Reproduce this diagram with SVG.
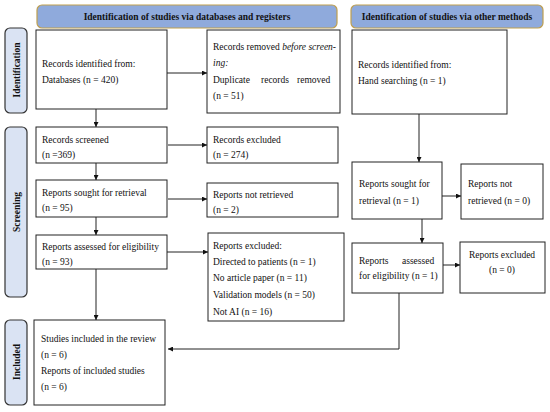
<svg xmlns="http://www.w3.org/2000/svg" width="550" height="412" viewBox="0 0 550 412">
<style>
.bx{fill:#fff;stroke:#222;stroke-width:1}
.hd{fill:#8FAADC;stroke:#BF9F4F;stroke-width:1.2}
.sd{fill:#DAE3F3;stroke:#333;stroke-width:1.2}
.t{font-family:"Liberation Serif","Times New Roman",serif;font-size:9.5px;fill:#111}
.b{font-family:"Liberation Serif","Times New Roman",serif;font-size:9.5px;font-weight:bold;fill:#111}
.ln{fill:none;stroke:#222;stroke-width:1}
</style>
<defs>
<marker id="ah" viewBox="0 0 10 10" refX="10" refY="5" markerWidth="5" markerHeight="5" orient="auto">
<path d="M0,0 L10,5 L0,10 z" fill="#111"/>
</marker>
</defs>
<rect width="550" height="412" fill="#fff"/>
<g id="header-databases">
<rect class="hd" x="37" y="5" width="300" height="23" rx="5"/>
<text class="b" x="187" y="20" text-anchor="middle">Identification of studies via databases and registers</text>
</g>
<g id="header-other">
<rect class="hd" x="351" y="5" width="192" height="23" rx="5"/>
<text class="b" x="447" y="20" text-anchor="middle">Identification of studies via other methods</text>
</g>
<g id="side-identification">
<rect class="sd" x="5" y="28" width="22" height="85" rx="5"/>
<text class="b" transform="translate(19.5,70) rotate(-90)" text-anchor="middle">Identification</text>
</g>
<g id="side-screening">
<rect class="sd" x="5" y="127" width="22" height="170" rx="5"/>
<text class="b" transform="translate(19.5,212) rotate(-90)" text-anchor="middle">Screening</text>
</g>
<g id="side-included">
<rect class="sd" x="5" y="320" width="22" height="85" rx="5"/>
<text class="b" transform="translate(19.5,362) rotate(-90)" text-anchor="middle">Included</text>
</g>
<g id="records-identified">
<rect class="bx" x="36" y="30" width="131" height="79"/>
<text class="t" x="42" y="67">Records identified from:</text>
<text class="t" x="42" y="83">Databases (n = 420)</text>
</g>
<g id="records-removed">
<rect class="bx" x="207" y="30" width="133" height="83"/>
<text class="t" x="213" y="50">Records removed <tspan font-style="italic">before screen-</tspan></text>
<text class="t" x="213" y="66" font-style="italic">ing:</text>
<text class="t" y="83"><tspan x="213">Duplicate</tspan><tspan x="261">records</tspan><tspan x="297">removed</tspan></text>
<text class="t" x="213" y="99">(n = 51)</text>
</g>
<g id="hand-searching">
<rect class="bx" x="352" y="30" width="155" height="84"/>
<text class="t" x="358" y="68">Records identified from:</text>
<text class="t" x="358" y="84">Hand searching (n = 1)</text>
</g>
<g id="records-screened">
<rect class="bx" x="36" y="127" width="131" height="36"/>
<text class="t" x="42" y="143">Records screened</text>
<text class="t" x="42" y="158">(n =369)</text>
</g>
<g id="records-excluded">
<rect class="bx" x="207" y="127" width="131" height="36"/>
<text class="t" x="213" y="143">Records excluded</text>
<text class="t" x="213" y="158">(n = 274)</text>
</g>
<g id="reports-sought">
<rect class="bx" x="36" y="180" width="131" height="37"/>
<text class="t" x="42" y="196">Reports sought for retrieval</text>
<text class="t" x="42" y="211">(n = 95)</text>
</g>
<g id="reports-not-retrieved">
<rect class="bx" x="207" y="183" width="131" height="34"/>
<text class="t" x="213" y="198">Reports not retrieved</text>
<text class="t" x="213" y="213">(n = 2)</text>
</g>
<g id="reports-assessed">
<rect class="bx" x="36" y="235" width="131" height="34"/>
<text class="t" x="42" y="250">Reports assessed for eligibility</text>
<text class="t" x="42" y="265">(n = 93)</text>
</g>
<g id="reports-excluded">
<rect class="bx" x="208" y="233" width="136" height="88"/>
<text class="t" x="213" y="249">Reports excluded:</text>
<text class="t" x="213" y="265">Directed to patients (n = 1)</text>
<text class="t" x="213" y="281">No article paper (n = 11)</text>
<text class="t" x="213" y="298">Validation models (n = 50)</text>
<text class="t" x="213" y="315">Not AI (n = 16)</text>
</g>
<g id="other-reports-sought">
<rect class="bx" x="352" y="162" width="90" height="57"/>
<text class="t" x="359" y="187">Reports sought  for</text>
<text class="t" x="359" y="204">retrieval (n = 1)</text>
</g>
<g id="other-reports-not-retrieved">
<rect class="bx" x="461" y="164" width="82" height="55"/>
<text class="t" x="468" y="187">Reports not</text>
<text class="t" x="468" y="204">retrieved (n = 0)</text>
</g>
<g id="other-reports-assessed">
<rect class="bx" x="352" y="243" width="91" height="50"/>
<text class="t" y="264"><tspan x="359">Reports</tspan><tspan x="402">assessed</tspan></text>
<text class="t" x="359" y="279">for eligibility (n = 1)</text>
</g>
<g id="other-reports-excluded">
<rect class="bx" x="460" y="242" width="85" height="51"/>
<text class="t" x="502" y="258" text-anchor="middle">Reports excluded</text>
<text class="t" x="502" y="273" text-anchor="middle">(n = 0)</text>
</g>
<g id="studies-included">
<rect class="bx" x="34" y="320" width="131" height="85"/>
<text class="t" x="41" y="342">Studies included in the review</text>
<text class="t" x="41" y="358">(n = 6)</text>
<text class="t" x="41" y="374">Reports of included studies</text>
<text class="t" x="41" y="390">(n = 6)</text>
</g>
<g id="connectors">
<line class="ln" x1="167" y1="73" x2="207" y2="73" marker-end="url(#ah)"/>
<line class="ln" x1="96" y1="109" x2="96" y2="127" marker-end="url(#ah)"/>
<line class="ln" x1="168" y1="145" x2="207" y2="145" marker-end="url(#ah)"/>
<line class="ln" x1="96" y1="163" x2="96" y2="180" marker-end="url(#ah)"/>
<line class="ln" x1="168" y1="199" x2="207" y2="199" marker-end="url(#ah)"/>
<line class="ln" x1="96" y1="217" x2="96" y2="235" marker-end="url(#ah)"/>
<line class="ln" x1="167" y1="252" x2="208" y2="252" marker-end="url(#ah)"/>
<line class="ln" x1="96" y1="269" x2="96" y2="320" marker-end="url(#ah)"/>
<line class="ln" x1="419" y1="114" x2="419" y2="162" marker-end="url(#ah)"/>
<line class="ln" x1="442" y1="196" x2="461" y2="196" marker-end="url(#ah)"/>
<line class="ln" x1="422" y1="219" x2="422" y2="243" marker-end="url(#ah)"/>
<line class="ln" x1="443" y1="265" x2="460" y2="265" marker-end="url(#ah)"/>
<polyline class="ln" points="399,293 399,349 168,349" marker-end="url(#ah)"/>
</g>
</svg>
